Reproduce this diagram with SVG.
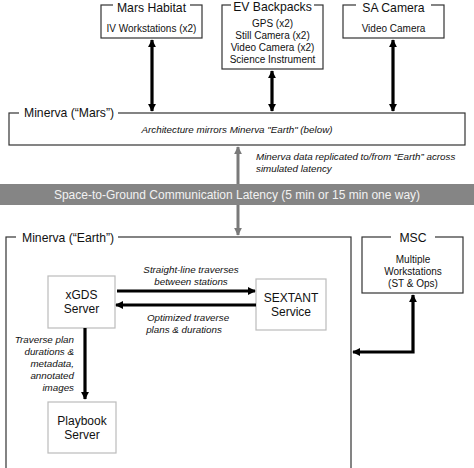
<svg xmlns="http://www.w3.org/2000/svg" width="474" height="468" viewBox="0 0 474 468">
<defs>
<style>
text{font-family:"Liberation Sans",Arial,sans-serif;fill:#111}
.t{font-size:12.2px;text-anchor:middle}
.n{font-size:12px;text-anchor:middle}
.s{font-size:10px;text-anchor:middle}
.i{font-size:9.8px;font-style:italic}
.box{fill:#fff;stroke:#333;stroke-width:1.2}
.lbox{fill:#fff;stroke:#bbb;stroke-width:1.2}
.blk{stroke:#000;stroke-width:3.2;fill:none}
.gry{stroke:#7a7a7a;stroke-width:3;fill:none}
.gap{fill:#fff}
</style>
<marker id="ab" viewBox="0 0 10 10" refX="9" refY="5" markerWidth="2.6" markerHeight="2.6" orient="auto-start-reverse" markerUnits="strokeWidth">
<path d="M0,0 L10,5 L0,10 z" fill="#000"/>
</marker>
<marker id="ag" viewBox="0 0 10 10" refX="9" refY="5" markerWidth="2.6" markerHeight="2.6" orient="auto-start-reverse" markerUnits="strokeWidth">
<path d="M0,0 L10,5 L0,10 z" fill="#7a7a7a"/>
</marker>
</defs>
<rect width="474" height="468" fill="#fff"/>

<g id="mars-habitat">
<rect class="box" x="101" y="5" width="101" height="33"/>
<rect class="gap" x="113" y="0" width="77" height="10"/>
<text class="t" x="151.5" y="12">Mars Habitat</text>
<text class="s" x="151.5" y="32">IV Workstations (x2)</text>
</g>

<g id="ev-backpacks">
<rect class="box" x="222" y="5" width="101" height="64"/>
<rect class="gap" x="231" y="0" width="83" height="10"/>
<text class="t" x="272.5" y="11">EV Backpacks</text>
<text class="s" x="272.5" y="27">GPS (x2)</text>
<text class="s" x="272.5" y="39">Still Camera (x2)</text>
<text class="s" x="272.5" y="51">Video Camera (x2)</text>
<text class="s" x="272.5" y="63">Science Instrument</text>
</g>

<g id="sa-camera">
<rect class="box" x="343" y="5" width="101" height="33"/>
<rect class="gap" x="356" y="0" width="75" height="10"/>
<text class="t" x="393.5" y="12">SA Camera</text>
<text class="s" x="393.5" y="32">Video Camera</text>
</g>

<g id="minerva-mars">
<rect class="box" x="9" y="113" width="456" height="32"/>
<rect class="gap" x="19" y="106" width="99" height="12"/>
<text class="t" x="24" y="117" style="text-anchor:start">Minerva (“Mars”)</text>
<text class="i" x="237" y="133" style="text-anchor:middle">Architecture mirrors Minerva "Earth" (below)</text>
</g>

<g id="latency-band">
<rect x="0" y="184" width="474" height="21" fill="#858585"/>
<text x="237" y="199" style="font-size:12px;text-anchor:middle;fill:#f2f2f2">Space-to-Ground Communication Latency (5 min or 15 min one way)</text>
</g>

<g id="minerva-earth">
<rect class="box" x="6" y="237" width="345" height="240"/>
<rect class="gap" x="16" y="230" width="102" height="12"/>
<text class="t" x="22" y="242" style="text-anchor:start">Minerva (“Earth”)</text>
</g>

<g id="msc">
<rect class="box" x="362" y="237" width="101" height="56"/>
<rect class="gap" x="391" y="230" width="44" height="12"/>
<text class="t" x="413" y="242">MSC</text>
<text class="s" x="413" y="263">Multiple</text>
<text class="s" x="413" y="275">Workstations</text>
<text class="s" x="413" y="287">(ST &amp; Ops)</text>
</g>

<g id="xgds">
<rect class="lbox" x="48" y="276" width="67" height="52"/>
<text class="n" x="81.5" y="299">xGDS</text>
<text class="n" x="81.5" y="313">Server</text>
</g>

<g id="sextant">
<rect class="lbox" x="256" y="279" width="70" height="51"/>
<text class="n" x="291" y="302">SEXTANT</text>
<text class="n" x="291" y="316">Service</text>
</g>

<g id="playbook">
<rect class="lbox" x="48" y="402" width="68" height="51"/>
<text class="n" x="82" y="425">Playbook</text>
<text class="n" x="82" y="439">Server</text>
</g>

<g id="connectors">
<line class="blk" x1="152" y1="40" x2="152" y2="111" marker-start="url(#ab)" marker-end="url(#ab)"/>
<line class="blk" x1="272" y1="71" x2="272" y2="111" marker-start="url(#ab)" marker-end="url(#ab)"/>
<line class="blk" x1="393" y1="40" x2="393" y2="111" marker-start="url(#ab)" marker-end="url(#ab)"/>
<line class="gry" x1="238" y1="147" x2="238" y2="184" marker-start="url(#ag)"/>
<line class="gry" x1="238" y1="205" x2="238" y2="235" marker-end="url(#ag)"/>
<line class="blk" x1="117" y1="291" x2="255" y2="291" marker-end="url(#ab)"/>
<line class="blk" x1="256" y1="305" x2="116" y2="305" marker-end="url(#ab)"/>
<line class="blk" x1="85" y1="328" x2="85" y2="399" marker-end="url(#ab)"/>
<polyline class="blk" points="413,295 413,352 353,352" marker-start="url(#ab)" marker-end="url(#ab)"/>
<text class="i" x="256" y="160" style="text-anchor:start">Minerva data replicated to/from “Earth” across</text>
<text class="i" x="256" y="172" style="text-anchor:start">simulated latency</text>
<text class="i" x="191" y="273" style="text-anchor:middle">Straight-line traverses</text>
<text class="i" x="191" y="285" style="text-anchor:middle">between stations</text>
<text class="i" x="188" y="321" style="text-anchor:middle">Optimized traverse</text>
<text class="i" x="184" y="333" style="text-anchor:middle">plans &amp; durations</text>
<text class="i" x="74" y="343" style="text-anchor:end">Traverse plan</text>
<text class="i" x="74" y="355" style="text-anchor:end">durations &amp;</text>
<text class="i" x="74" y="367" style="text-anchor:end">metadata,</text>
<text class="i" x="74" y="379" style="text-anchor:end">annotated</text>
<text class="i" x="74" y="391" style="text-anchor:end">images</text>
</g>
</svg>
